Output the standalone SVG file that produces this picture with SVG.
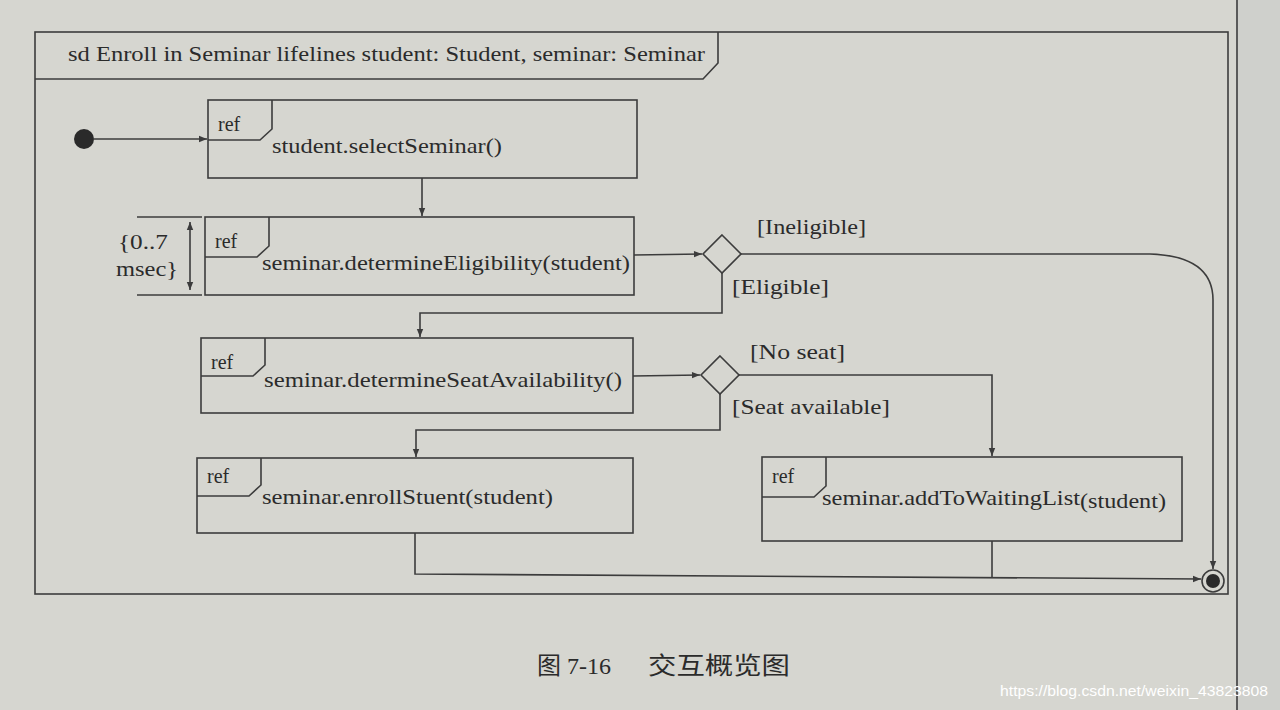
<svg xmlns="http://www.w3.org/2000/svg" width="1280" height="710" viewBox="0 0 1280 710">
<style>
.ln{fill:none;stroke:#3c3c3c;stroke-width:1.6}
.bx{fill:none;stroke:#3c3c3c;stroke-width:1.6}
.t{font-family:"Liberation Serif","Times New Roman",serif;fill:#2b2b2b;font-size:21px}
.r{font-family:"Liberation Serif","Times New Roman",serif;fill:#2b2b2b;font-size:20px}
.cap{font-family:"Liberation Serif","Noto Sans CJK SC",serif;fill:#2b2b2b;font-size:24px}
</style>
<defs>
<marker id="ah" viewBox="0 0 10 10" refX="10" refY="5" markerWidth="12" markerHeight="8" markerUnits="userSpaceOnUse" orient="auto-start-reverse">
<path d="M0,1 L10,5 L0,9 Z" fill="#3c3c3c"/>
</marker>
</defs>
<rect x="0" y="0" width="1280" height="710" fill="#d6d6d0"/>
<rect x="1236" y="0" width="44" height="710" fill="#cfd0cc"/>
<line x1="1237" y1="0" x2="1237" y2="710" stroke="#5a5a5a" stroke-width="2"/>

<g id="frame">
<rect class="bx" x="35" y="32" width="1193" height="562"/>
<path class="bx" d="M35,79 L703,79 L718,63 L718,32"/>
<text class="t" x="68" y="61" textLength="637" lengthAdjust="spacingAndGlyphs">sd Enroll in Seminar lifelines student: Student, seminar: Seminar</text>
</g>

<g id="initial">
<circle cx="84" cy="139" r="10" fill="#2a2a2a"/>
</g>

<g id="selectSeminar">
<rect class="bx" x="208" y="100" width="429" height="78"/>
<path class="bx" d="M208,140 L260,140 L272,129 L272,100"/>
<text class="r" x="218" y="131">ref</text>
<text class="t" x="272" y="153" textLength="230" lengthAdjust="spacingAndGlyphs">student.selectSeminar()</text>
</g>

<g id="determineEligibility">
<rect class="bx" x="205" y="217" width="429" height="78"/>
<path class="bx" d="M205,257 L257,257 L269,246 L269,217"/>
<text class="r" x="215" y="248">ref</text>
<text class="t" x="262" y="270" textLength="368" lengthAdjust="spacingAndGlyphs">seminar.determineEligibility(student)</text>
</g>

<g id="timing">
<line class="ln" x1="137" y1="217" x2="202" y2="217"/>
<line class="ln" x1="137" y1="295" x2="202" y2="295"/>
<line class="ln" x1="190" y1="222" x2="190" y2="290" marker-start="url(#ah)" marker-end="url(#ah)"/>
<text class="t" x="118" y="249" textLength="50" lengthAdjust="spacingAndGlyphs">{0..7</text>
<text class="t" x="116" y="276" textLength="62" lengthAdjust="spacingAndGlyphs">msec}</text>
</g>

<g id="decision1">
<path class="bx" d="M722,235 L741,254 L722,273 L703,254 Z"/>
<text class="t" x="757" y="234" textLength="109" lengthAdjust="spacingAndGlyphs">[Ineligible]</text>
<text class="t" x="732" y="294" textLength="97" lengthAdjust="spacingAndGlyphs">[Eligible]</text>
</g>

<g id="determineSeatAvailability">
<rect class="bx" x="201" y="338" width="432" height="75"/>
<path class="bx" d="M201,376 L253,376 L265,365 L265,338"/>
<text class="r" x="211" y="369">ref</text>
<text class="t" x="264" y="387" textLength="358" lengthAdjust="spacingAndGlyphs">seminar.determineSeatAvailability()</text>
</g>

<g id="decision2">
<path class="bx" d="M720,356 L739,375 L720,394 L701,375 Z"/>
<text class="t" x="750" y="359" textLength="95" lengthAdjust="spacingAndGlyphs">[No seat]</text>
<text class="t" x="732" y="414" textLength="158" lengthAdjust="spacingAndGlyphs">[Seat available]</text>
</g>

<g id="enrollStudent">
<rect class="bx" x="197" y="458" width="436" height="75"/>
<path class="bx" d="M197,496 L249,496 L261,485 L261,458"/>
<text class="r" x="207" y="483">ref</text>
<text class="t" x="262" y="504" textLength="291" lengthAdjust="spacingAndGlyphs">seminar.enrollStuent(student)</text>
</g>

<g id="addToWaitingList">
<rect class="bx" x="762" y="457" width="420" height="84"/>
<path class="bx" d="M762,497 L814,497 L826,486 L826,457"/>
<text class="r" x="772" y="483">ref</text>
<text class="t" x="822" y="505" textLength="258" lengthAdjust="spacingAndGlyphs">seminar.addToWaitingList</text>
<text class="t" x="1080" y="508" font-size="17" textLength="86" lengthAdjust="spacingAndGlyphs">(student)</text>
</g>

<g id="final">
<circle cx="1213" cy="581" r="11" fill="none" stroke="#3c3c3c" stroke-width="1.6"/>
<circle cx="1213" cy="581" r="7" fill="#2a2a2a"/>
</g>

<g id="connectors">
<line class="ln" x1="94" y1="139" x2="207" y2="139" marker-end="url(#ah)"/>
<line class="ln" x1="422" y1="178" x2="422" y2="216" marker-end="url(#ah)"/>
<line class="ln" x1="634" y1="255" x2="702" y2="254" marker-end="url(#ah)"/>
<path class="ln" d="M741,254 L1150,254 Q1213,256 1213,300 L1213,569" marker-end="url(#ah)"/>
<path class="ln" d="M722,273 L722,313 L420,313 L420,337" marker-end="url(#ah)"/>
<line class="ln" x1="633" y1="376" x2="700" y2="375" marker-end="url(#ah)"/>
<path class="ln" d="M739,375 L992,375 L992,456" marker-end="url(#ah)"/>
<path class="ln" d="M720,394 L720,430 L416,430 L416,457" marker-end="url(#ah)"/>
<path class="ln" d="M415,533 L415,574 L1201,579" marker-end="url(#ah)"/>
<line class="ln" x1="992" y1="541" x2="992" y2="577"/>
</g>

<text class="cap" x="537" y="674">图 7-16</text>
<text class="cap" x="648" y="674" textLength="142" lengthAdjust="spacingAndGlyphs">交互概览图</text>
<text x="1000" y="696" font-family="Liberation Sans, Arial, sans-serif" font-size="15" fill="#ffffff" textLength="268" lengthAdjust="spacingAndGlyphs">https://blog.csdn.net/weixin_43823808</text>
</svg>
